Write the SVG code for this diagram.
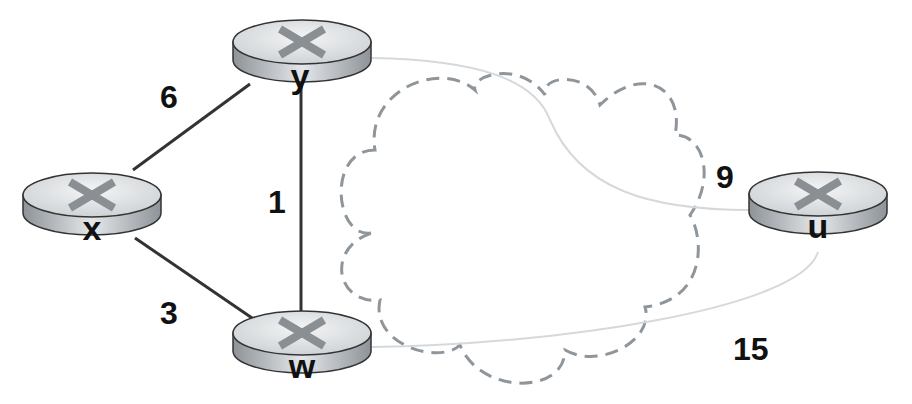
<svg xmlns="http://www.w3.org/2000/svg" width="912" height="404" viewBox="0 0 912 404">
<defs>
<linearGradient id="side" x1="0" x2="1" y1="0" y2="0">
<stop offset="0" stop-color="#8d9398"/><stop offset="0.5" stop-color="#e4e7ea"/><stop offset="1" stop-color="#8d9398"/>
</linearGradient>
<radialGradient id="top" cx="0.5" cy="0.4" r="0.6">
<stop offset="0" stop-color="#f3f4f5"/><stop offset="1" stop-color="#cfd3d6"/>
</radialGradient>
<g id="router">
<path d="M-69 0 L-69 18 A69 22 0 0 0 69 18 L69 0 Z" fill="url(#side)" stroke="#333" stroke-width="1.5"/>
<ellipse cx="0" cy="0" rx="69" ry="22" fill="url(#top)" stroke="#333" stroke-width="1.5"/>
<path d="M-22 -13 L22 13 M-22 13 L22 -13" stroke="#8a8f93" stroke-width="8"/>
</g>
</defs>
<style>
.lbl{font-family:"Liberation Sans",Arial,sans-serif;font-weight:bold;font-size:32px;fill:#111}
.w{font-family:"Liberation Sans",Arial,sans-serif;font-weight:bold;font-size:34px;fill:#111;text-anchor:middle}
.link{stroke:#333;stroke-width:3;fill:none}
.soft{stroke:#d6d9db;stroke-width:2;fill:none}
</style>
<g id="cloud">
<path d="M375 150 C325 150 335 245 375 232 C325 245 335 305 380 300 C370 345 440 365 460 345 C480 395 565 395 565 350 C600 370 655 340 645 307 C705 300 705 240 690 215 C715 180 705 135 675 135 C685 85 640 65 600 105 C590 70 540 75 545 95 C520 60 470 75 475 90 C440 60 365 90 375 150 Z" fill="none" stroke="#8e969c" stroke-width="3" stroke-dasharray="13,8"/>
</g>
<g id="connectors">
<path class="link" d="M133 170 L250 84"/>
<path class="link" d="M135 238 L255 320"/>
<path class="link" d="M301 82 L301 318"/>
<path class="soft" d="M372 58 C480 60 535 80 550 120 C580 190 650 210 750 210"/>
<path class="soft" d="M372 347 C550 345 800 310 818 252"/>
</g>
<g id="node-y"><use href="#router" x="302" y="42"/><text class="w" x="300" y="88">y</text></g>
<g id="node-x"><use href="#router" x="92" y="195"/><text class="w" x="92" y="240">x</text></g>
<g id="node-w"><use href="#router" x="302" y="333"/><text class="w" x="302" y="378">w</text></g>
<g id="node-u"><use href="#router" x="818" y="194"/><text class="w" x="818" y="238">u</text></g>
<g id="labels">
<text class="lbl" x="160" y="108">6</text>
<text class="lbl" x="268" y="213">1</text>
<text class="lbl" x="160" y="324">3</text>
<text class="lbl" x="716" y="188">9</text>
<text class="lbl" x="733" y="360">15</text>
</g>
</svg>
